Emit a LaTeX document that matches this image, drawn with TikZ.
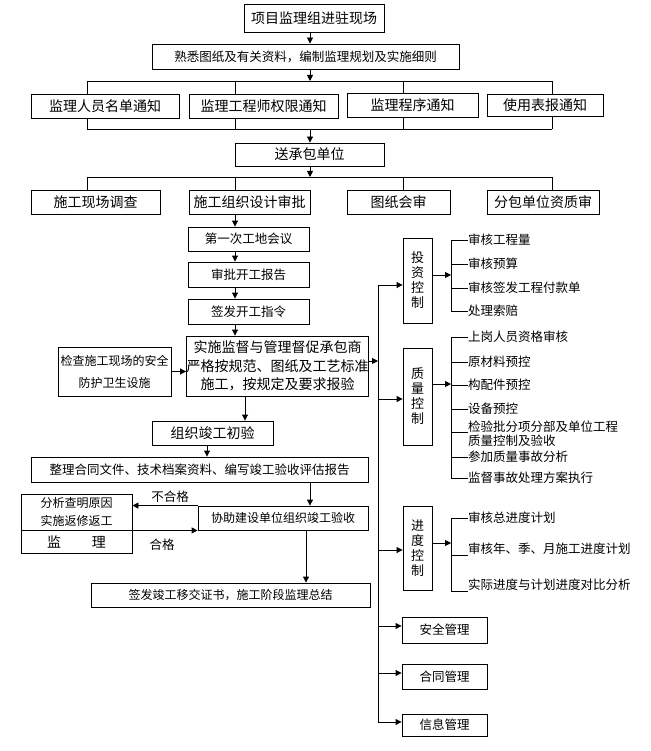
\documentclass[tikz,border=0pt]{standalone}
\usepackage{fontspec}
\setmainfont{Noto Sans CJK SC}
\usetikzlibrary{arrows.meta,calc}
\tikzset{
  box/.style={draw, line width=0.9pt, inner sep=0pt, align=center},
  arr/.style={line width=0.9pt, -{Triangle[length=6pt,width=6pt]}},
  ln/.style={line width=0.9pt},
  item/.style={anchor=west, inner sep=0pt, align=left, font=\fontsize{12.5}{14}\selectfont},
  fA/.style={font=\fontsize{14}{16}\selectfont},
  fB/.style={font=\fontsize{12.5}{15}\selectfont},
  fV/.style={font=\fontsize{13}{15}\selectfont},
}
\begin{document}
\begin{tikzpicture}[x=1pt,y=-1pt]
\useasboundingbox (0,0) rectangle (650,751);
% ---------- top chain ----------
\node[box,fA,minimum width=140pt,minimum height=28pt] (n1) at (314,18) {项目监理组进驻现场};
\node[box,fB,minimum width=307pt,minimum height=25pt] (n2) at (305.5,56.5) {熟悉图纸及有关资料，编制监理规划及实施细则};
\node[box,fA,minimum width=148pt,minimum height=24pt] (r3a) at (105,106) {监理人员名单通知};
\node[box,fA,minimum width=149pt,minimum height=24pt] (r3b) at (263.5,106) {监理工程师权限通知};
\node[box,fA,minimum width=131pt,minimum height=24pt] (r3c) at (412.5,105.5) {监理程序通知};
\node[box,fA,minimum width=116pt,minimum height=22pt] (r3d) at (545,105) {使用表报通知};
\node[box,fA,minimum width=149pt,minimum height=23pt] (n3) at (309.5,154.5) {送承包单位};
\node[box,fA,minimum width=129pt,minimum height=24pt] (r4a) at (95.5,202) {施工现场调查};
\node[box,fA,minimum width=121pt,minimum height=24pt] (r4b) at (249.5,202) {施工组织设计审批};
\node[box,fA,minimum width=103pt,minimum height=24pt] (r4c) at (398.5,202) {图纸会审};
\node[box,fA,minimum width=112pt,minimum height=24pt] (r4d) at (543,202) {分包单位资质审};

\coordinate (ax) at (310,0);
\coordinate (b1) at (310,81);
\coordinate (b1a) at (87,81);
\coordinate (b1b) at (235,81);
\coordinate (b1c) at (403,81);
\coordinate (b1d) at (552,81);
\coordinate (b2) at (310,129);
\coordinate (b2a) at (87,129);
\coordinate (b2b) at (235,129);
\coordinate (b2c) at (403,129);
\coordinate (b2d) at (552,129);
\coordinate (b3) at (310,177);
\coordinate (b3a) at (87,177);
\coordinate (b3b) at (235,177);
\coordinate (b3c) at (403,177);
\coordinate (b3d) at (552,177);

\draw[arr] (n1.south -| ax) -- (n2.north -| ax);
\draw[arr] (n2.south -| ax) -- (b1);
\draw[ln] (b1a) -- (b1d);
\foreach \c/\b in {b1a/r3a,b1b/r3b,b1c/r3c,b1d/r3d} \draw[ln] (\c) -- (\c |- \b.north);
\draw[ln] (b2a) -- (b2d);
\foreach \c/\b in {b2a/r3a,b2b/r3b,b2c/r3c,b2d/r3d} \draw[ln] (\c) -- (\c |- \b.south);
\draw[arr] (b2) -- (n3.north -| ax);
\draw[arr] (n3.south -| ax) -- (b3);
\draw[ln] (b3a) -- (b3d);
\foreach \c/\b in {b3a/r4a,b3b/r4b,b3c/r4c,b3d/r4d} \draw[ln] (\c) -- (\c |- \b.north);

% ---------- construction chain ----------
\node[box,fB,minimum width=121pt,minimum height=24pt] (n4) at (248.5,239) {第一次工地会议};
\node[box,fB,minimum width=121pt,minimum height=25pt] (n5) at (248.5,274.5) {审批开工报告};
\node[box,fB,minimum width=121pt,minimum height=25pt] (n6) at (248.5,311.5) {签发开工指令};
\node[box,font=\fontsize{14}{18.5}\selectfont,minimum width=179pt,minimum height=60pt] (n7) at (277.5,366) {实施监督与管理督促承包商\\严格按规范、图纸及工艺标准\\施工，按规定及要求报验};
\node[box,font=\fontsize{12}{22}\selectfont,minimum width=113pt,minimum height=49pt] (n8) at (114.5,371.5) {检查施工现场的安全\\防护卫生设施};
\coordinate (bx) at (235,0);
\draw[arr] (r4b.south -| bx) -- (n4.north -| bx);
\draw[arr] (n4.south -| bx) -- (n5.north -| bx);
\draw[arr] (n5.south -| bx) -- (n6.north -| bx);
\draw[arr] (n6.south -| bx) -- (n7.north -| bx);
\draw[arr] (n8.east) -- (n8.east -| n7.west);

\node[box,fA,minimum width=121pt,minimum height=24pt] (n9) at (212.5,433) {组织竣工初验};
\node[box,fB,minimum width=337pt,minimum height=25pt] (n10) at (199.5,469.5) {整理合同文件、技术档案资料、编写竣工验收评估报告};
\node[box,font=\fontsize{12}{15}\selectfont,minimum width=170pt,minimum height=24pt] (n11) at (283,518) {协助建设单位组织竣工验收};
\node[box,font=\fontsize{12}{18}\selectfont,minimum width=111pt,minimum height=36pt] (n12a) at (76.5,512) {分析查明原因\\实施返修返工};
\node[box,fA,minimum width=111pt,minimum height=23pt] (n12b) at (76.5,541.5) {监\hspace{2.2em}理};
\node[box,font=\fontsize{12}{15}\selectfont,minimum width=279pt,minimum height=24pt] (n13) at (230.5,595) {签发竣工移交证书，施工阶段监理总结};
\node[fB,inner sep=0pt] (lb1) at (170,497) {不合格};
\node[fB,inner sep=0pt] (lb2) at (162,545) {合格};

\coordinate (cx1) at (245,0);
\coordinate (cx2) at (207,0);
\coordinate (cx3) at (310,0);
\coordinate (cx4) at (306,0);
\draw[arr] (n7.south -| cx1) -- (n9.north -| cx1);
\draw[arr] (n9.south -| cx2) -- (n10.north -| cx2);
\draw[arr] (n10.south -| cx3) -- (n11.north -| cx3);
\draw[arr] (n11.north west) -- (n11.north west -| n12a.east);
\draw[arr] (n12a.south east) -- (n11.south west);
\draw[arr] (n11.south -| cx4) -- (n13.north -| cx4);

% ---------- right side ----------
\coordinate (v0) at (378,285);
\coordinate (v1) at (378,399);
\coordinate (v2) at (378,550);
\coordinate (v3) at (378,626);
\coordinate (v4) at (378,673);
\coordinate (v5) at (378,722);
\coordinate (vm) at (378,361);
\draw[ln] (v0) -- (v5);
\draw[arr] ([yshift=5pt]n7.east) -- (vm);

\node[box,fV,minimum width=29pt,minimum height=85pt] (tz) at (417.5,280.5) {投\\资\\控\\制};
\node[box,fV,minimum width=29pt,minimum height=97pt] (zl) at (417.5,396.5) {质\\量\\控\\制};
\node[box,fV,minimum width=29pt,minimum height=84pt] (jd) at (417.5,548) {进\\度\\控\\制};
\node[box,fB,minimum width=85pt,minimum height=26pt] (aq) at (444.5,630) {安全管理};
\node[box,fB,minimum width=85pt,minimum height=25pt] (ht) at (444.5,676.5) {合同管理};
\node[box,fB,minimum width=85pt,minimum height=22pt] (xx) at (444.5,725) {信息管理};

\draw[arr] (v0) -- (v0 -| tz.west);
\draw[arr] (v1) -- (v1 -| zl.west);
\draw[arr] (v2) -- (v2 -| jd.west);
\draw[arr] (v3) -- (v3 -| aq.west);
\draw[arr] (v4) -- (v4 -| ht.west);
\draw[arr] (v5) -- (v5 -| xx.west);

\coordinate (brx) at (451,0);
\coordinate (tzb) at (451,275);
\coordinate (zlb) at (451,384);
\coordinate (jdb) at (451,543);
\draw[arr] (tz.east |- tzb) -- (tzb);
\draw[arr] (zl.east |- zlb) -- (zlb);
\draw[arr] (jd.east |- jdb) -- (jdb);

\node[item] (tz1) at (468,240) {审核工程量};
\node[item] (tz2) at (468,264) {审核预算};
\node[item] (tz3) at (468,288) {审核签发工程付款单};
\node[item] (tz4) at (468,311) {处理索赔};
\draw[ln] (tz1.west) -- (tz1.west -| brx) -- (tz4.west -| brx) -- (tz4.west);
\draw[ln] (tz2.west -| brx) -- (tz2.west);
\draw[ln] (tz3.west -| brx) -- (tz3.west);

\node[item] (zl1) at (468,337) {上岗人员资格审核};
\node[item] (zl2) at (468,362) {原材料预控};
\node[item] (zl3) at (468,385) {构配件预控};
\node[item] (zl4) at (468,409) {设备预控};
\node[item] (zl5) at (468,434) {检验批分项分部及单位工程\\质量控制及验收};
\node[item] (zl6) at (468,457) {参加质量事故分析};
\node[item] (zl7) at (468,478) {监督事故处理方案执行};
\draw[ln] (zl1.west) -- (zl1.west -| brx) -- (zl7.west -| brx) -- (zl7.west);
\foreach \i in {zl2,zl3,zl4,zl6} \draw[ln] (\i.west -| brx) -- (\i.west);
\coordinate (zl5t) at (451,432);
\draw[ln] (zl5t) -- (zl5t -| zl5.west);

\node[item] (jd1) at (468,518) {审核总进度计划};
\node[item] (jd2) at (468,549) {审核年、季、月施工进度计划};
\node[item] (jd3) at (468,585) {实际进度与计划进度对比分析};
\draw[ln] (jd1.west) -- (jd1.west -| brx) -- (jd3.south west -| brx) -- (jd3.south west);
\draw[ln] (jd2.south west -| brx) -- (jd2.south west);
\end{tikzpicture}
\end{document}
